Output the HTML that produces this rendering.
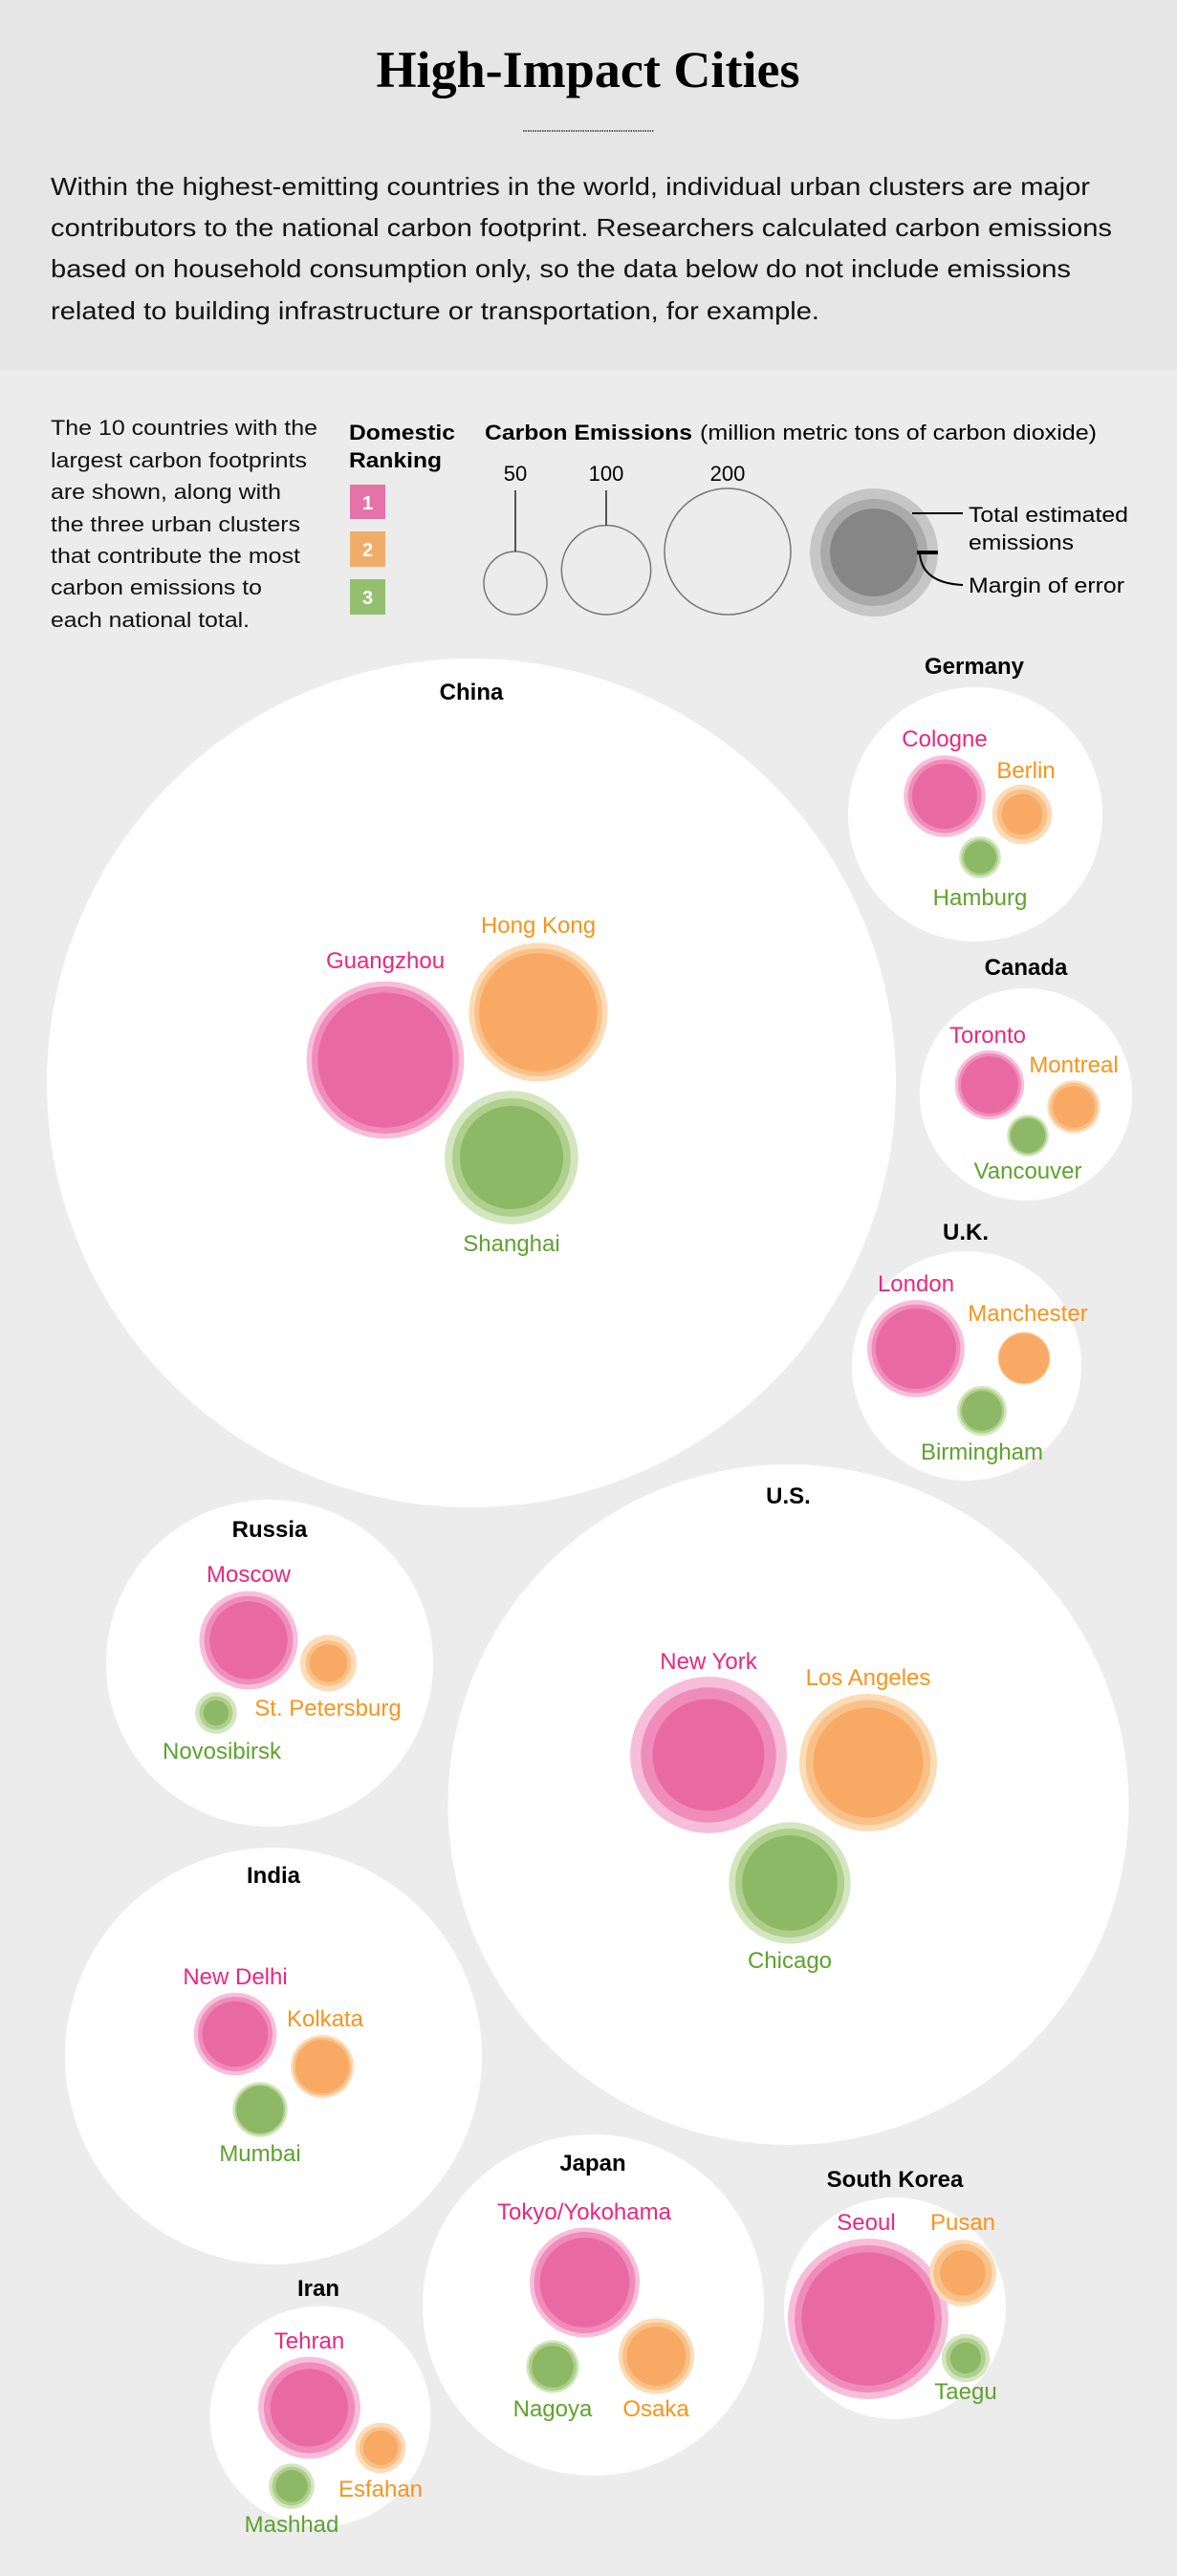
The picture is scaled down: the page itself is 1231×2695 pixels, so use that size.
<!DOCTYPE html>
<html><head><meta charset="utf-8"><style>
html,body{margin:0;padding:0;background:#ececec;}
svg{display:block;font-family:"Liberation Sans",sans-serif;}
</style></head><body>
<svg id="chart" width="1231" height="2695" viewBox="0 0 1231 2695" xmlns="http://www.w3.org/2000/svg">
<rect x="0" y="0" width="1231" height="2695" fill="#ececec"/>
<rect x="0" y="0" width="1231" height="387" fill="#e6e6e6"/>
<text x="615" y="91" text-anchor="middle" font-family="'Liberation Serif',serif" font-weight="bold" font-size="54" textLength="443" lengthAdjust="spacingAndGlyphs">High-Impact Cities</text>
<line x1="547" y1="137" x2="684" y2="137" stroke="#333" stroke-width="1.5" stroke-dasharray="1.5,1"/>
<g font-size="26" fill="#111">
<text x="53" y="204" textLength="1087" lengthAdjust="spacingAndGlyphs">Within the highest-emitting countries in the world, individual urban clusters are major</text>
<text x="53" y="247" textLength="1110" lengthAdjust="spacingAndGlyphs">contributors to the national carbon footprint. Researchers calculated carbon emissions</text>
<text x="53" y="290" textLength="1067" lengthAdjust="spacingAndGlyphs">based on household consumption only, so the data below do not include emissions</text>
<text x="53" y="334" textLength="804" lengthAdjust="spacingAndGlyphs">related to building infrastructure or transportation, for example.</text>
</g>
<g font-size="22" fill="#111">
<text x="53" y="455" textLength="279" lengthAdjust="spacingAndGlyphs">The 10 countries with the</text>
<text x="53" y="489" textLength="268" lengthAdjust="spacingAndGlyphs">largest carbon footprints</text>
<text x="53" y="522" textLength="241" lengthAdjust="spacingAndGlyphs">are shown, along with</text>
<text x="53" y="556" textLength="261" lengthAdjust="spacingAndGlyphs">the three urban clusters</text>
<text x="53" y="589" textLength="261" lengthAdjust="spacingAndGlyphs">that contribute the most</text>
<text x="53" y="622" textLength="221" lengthAdjust="spacingAndGlyphs">carbon emissions to</text>
<text x="53" y="656" textLength="208" lengthAdjust="spacingAndGlyphs">each national total.</text>
</g>
<g>
<text x="365" y="460" font-size="22" font-weight="bold" textLength="111" lengthAdjust="spacingAndGlyphs">Domestic</text>
<text x="365" y="489" font-size="22" font-weight="bold" textLength="97" lengthAdjust="spacingAndGlyphs">Ranking</text>
<rect x="366" y="507" width="37" height="36" fill="#e573a8"/>
<text x="384.5" y="533" font-size="20" font-weight="bold" fill="#fff" text-anchor="middle">1</text>
<rect x="366" y="556" width="37" height="37" fill="#f0ad6a"/>
<text x="384.5" y="582" font-size="20" font-weight="bold" fill="#fff" text-anchor="middle">2</text>
<rect x="366" y="606" width="37" height="37" fill="#94bf6e"/>
<text x="384.5" y="632" font-size="20" font-weight="bold" fill="#fff" text-anchor="middle">3</text>
</g>
<g>
<text x="507" y="460" font-size="22" font-weight="bold" textLength="217" lengthAdjust="spacingAndGlyphs">Carbon Emissions</text>
<text x="732" y="460" font-size="22" textLength="415" lengthAdjust="spacingAndGlyphs">(million metric tons of carbon dioxide)</text>
<g id="sizeLegend"></g>
<circle cx="914" cy="578" r="67" fill="#c6c6c6"/>
<circle cx="914" cy="578" r="56" fill="#aaaaaa"/>
<circle cx="914" cy="578" r="46" fill="#868686"/>
<line x1="954" y1="537" x2="1007" y2="537" stroke="#000" stroke-width="2"/>
<line x1="959" y1="578" x2="981" y2="578" stroke="#000" stroke-width="4"/>
<path d="M962 580 Q965 610 1007 612" fill="none" stroke="#000" stroke-width="2"/>
<text x="1013" y="546" font-size="22" textLength="167" lengthAdjust="spacingAndGlyphs">Total estimated</text>
<text x="1013" y="575" font-size="22" textLength="110" lengthAdjust="spacingAndGlyphs">emissions</text>
<text x="1013" y="620" font-size="22" textLength="163" lengthAdjust="spacingAndGlyphs">Margin of error</text>
</g>
<g id="bubbles"></g>
</svg>
<script>
// ---- data (million metric tons CO2) ----
const legendValues = [50, 100, 200];
const countries = ["China","Germany","Canada","U.K.","Russia","India","U.S.","Iran","Japan","South Korea"];
const countryTotals = [9052, 812, 566, 661, 1343, 2182, 5819, 612, 1463, 618];
const cities = ["Guangzhou","Hong Kong","Shanghai","Cologne","Berlin","Hamburg","Toronto","Montreal","Vancouver","London","Manchester","Birmingham","Moscow","St. Petersburg","Novosibirsk","New Delhi","Kolkata","Mumbai","New York","Los Angeles","Chicago","Tehran","Esfahan","Mashhad","Tokyo/Yokohama","Nagoya","Osaka","Seoul","Pusan","Taegu"];
const cityCountry = [0,0,0,1,1,1,2,2,2,3,3,3,4,4,4,5,5,5,6,6,6,7,7,7,8,8,8,9,9,9];
const cityRank = [1,2,3,1,2,3,1,2,3,1,2,3,1,2,3,1,2,3,1,2,3,1,2,3,1,3,2,1,2,3];
const cityLow = [229,176,134,53,21,13,41,22,15,81,31,20,76,18,8,54,36,28,157,152,114,76,15,13,101,22,44,223,26,12];
const cityEstimate = [272,206,176,68,32,17,50,29,18,99,33,25,99,26,14,70,43,32,230,196,149,104,22,19,129,29,58,272,43,20];
const cityHigh = [312,242,224,84,45,22,60,35,22,119,35,31,122,40,22,86,50,38,308,238,186,131,32,26,152,35,72,324,56,29];

// ---- layout (packing positions, not data) ----
const countryLayout = [[493,1133,493,732],[1020,852,1019,705],[1073,1145,1073,1020],[1011,1429,1010,1297],[282,1740,282,1608],[286,2151,286,1970],[824.5,1888,824.5,1573],[335,2528,333,2402],[620.5,2411.5,620,2271],[936,2415,936,2288]];
const cityLayout = [[403,1109,403,1013],[563,1059,563,976],[535,1211,535,1309],[988,833,988,781],[1069,852,1073,814],[1025,897,1025,947],[1035,1135,1033,1091],[1123,1158,1123,1122],[1075,1188,1075,1233],[958,1411,958,1351],[1071,1421,1075,1382],[1027,1476,1027,1527],[260,1716,260,1655],[343.5,1740,343,1795],[226,1792,232,1840],[246,2128,246,2076],[337,2162,340,2120],[272,2207,272,2261],[741,1836,741,1746],[908,1844,908,1763],[826,1970,826,2059],[323.5,2519,323.5,2457],[398,2561,398,2612],[305,2601,305,2649],[611.5,2388,611,2322],[578,2476,578,2528],[686.5,2465,686,2528],[908,2426,906,2333],[1007,2378,1007,2333],[1010,2467,1010,2510]];

const NS = "http://www.w3.org/2000/svg";
function rScale(v){ return 4.667*Math.sqrt(v); }
const palette = {1:["#f7bedb","#f08cb9","#e96aa2","#e8287f"],2:["#fcdcb6","#f9c18a","#f8aa65","#f7941d"],3:["#d3e6bf","#afcf8d","#8db865","#5fa12e"]};
function mk(tag, attrs, parent){ const e=document.createElementNS(NS,tag); for(const k in attrs) e.setAttribute(k,attrs[k]); parent.appendChild(e); return e; }

// size legend
const sl = document.getElementById("sizeLegend");
const legendX = [539, 634, 761];
const legendBottom = 643;
legendValues.forEach((v,i)=>{
  const r = rScale(v);
  const c = mk("circle",{cx:legendX[i],cy:legendBottom-r,r:r,fill:"none",stroke:"#777","stroke-width":1.5},sl);
  
  
  const t = mk("text",{x:legendX[i],y:503,"font-size":22,"text-anchor":"middle"},sl);
  t.textContent = v;
  
  
  if (i<2){ mk("line",{x1:legendX[i],y1:513,x2:legendX[i],y2:legendBottom-2*r,stroke:"#222","stroke-width":1.5},sl); }
});

const g = document.getElementById("bubbles");
countries.forEach((name,i)=>{
  const L = countryLayout[i];
  const c = mk("circle",{cx:L[0],cy:L[1],r:rScale(countryTotals[i]),fill:"#fff"},g);
  
  
});
countries.forEach((name,i)=>{
  const L = countryLayout[i];
  const t = mk("text",{x:L[2],y:L[3],"font-size":24,"font-weight":"bold","text-anchor":"middle",fill:"#000"},g);
  t.textContent = name;
  
  
});
cities.forEach((name,i)=>{
  const L = cityLayout[i], p = palette[cityRank[i]];
  const grp = mk("g",{},g);
  
  
  mk("circle",{cx:L[0],cy:L[1],r:rScale(cityHigh[i]),fill:p[0]},grp);
  mk("circle",{cx:L[0],cy:L[1],r:rScale(cityEstimate[i]),fill:p[1]},grp);
  mk("circle",{cx:L[0],cy:L[1],r:rScale(cityLow[i]),fill:p[2]},grp);
  const t = mk("text",{x:L[2],y:L[3],"font-size":24,"text-anchor":"middle",fill:p[3]},g);
  t.textContent = name;
  
  
});
</script>
</body></html>
